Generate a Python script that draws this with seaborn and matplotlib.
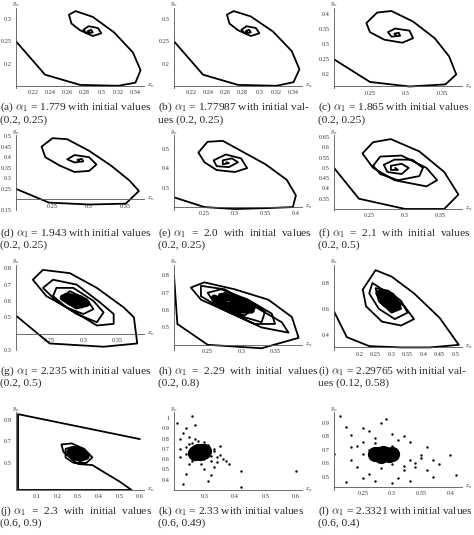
import numpy as np
import pandas as pd
import matplotlib
matplotlib.use("Agg")
from matplotlib import pyplot as plt
import seaborn as sns

sns.set_style("white")
plt.rcParams['font.family'] = ['Liberation Serif', 'DejaVu Serif']
plt.rcParams['mathtext.fontset'] = 'cm'

# ---- trajectories (x_n, y_n) ----
a_x = [0.2, 0.234, 0.275, 0.32, 0.34, 0.346, 0.337, 0.315, 0.29, 0.27, 0.262, 0.265, 0.275, 0.29, 0.3, 0.296, 0.285, 0.279, 0.283, 0.29, 0.288, 0.284, 0.286]
a_y = [0.25, 0.175, 0.152, 0.15, 0.157, 0.185, 0.225, 0.27, 0.305, 0.318, 0.31, 0.29, 0.275, 0.262, 0.268, 0.28, 0.284, 0.276, 0.268, 0.27, 0.276, 0.273, 0.271]
b_x = [0.2, 0.234, 0.275, 0.32, 0.34, 0.347, 0.338, 0.316, 0.29, 0.27, 0.262, 0.265, 0.275, 0.29, 0.3, 0.296, 0.285, 0.279, 0.283, 0.29, 0.288, 0.284, 0.286]
b_y = [0.25, 0.175, 0.152, 0.15, 0.158, 0.187, 0.228, 0.272, 0.306, 0.318, 0.31, 0.29, 0.275, 0.262, 0.268, 0.28, 0.284, 0.276, 0.268, 0.27, 0.276, 0.273, 0.271]
c_x = [0.2, 0.25, 0.305, 0.355, 0.37, 0.36, 0.34, 0.31, 0.28, 0.26, 0.245, 0.25, 0.27, 0.295, 0.31, 0.305, 0.285, 0.275, 0.28, 0.292, 0.29, 0.284, 0.286]
c_y = [0.25, 0.175, 0.16, 0.167, 0.2, 0.26, 0.32, 0.375, 0.41, 0.405, 0.37, 0.34, 0.315, 0.305, 0.32, 0.345, 0.352, 0.34, 0.325, 0.328, 0.338, 0.335, 0.331]
d_x = [0.2, 0.245, 0.3, 0.35, 0.368, 0.355, 0.33, 0.3, 0.27, 0.25, 0.235, 0.24, 0.26, 0.28, 0.3, 0.31, 0.3, 0.28, 0.27, 0.28, 0.292, 0.29, 0.284, 0.286]
d_y = [0.25, 0.185, 0.176, 0.18, 0.24, 0.29, 0.36, 0.43, 0.485, 0.49, 0.45, 0.4, 0.36, 0.33, 0.335, 0.365, 0.4, 0.41, 0.39, 0.375, 0.38, 0.392, 0.388, 0.385]
e_x = [0.2, 0.25, 0.3, 0.355, 0.395, 0.4, 0.385, 0.35, 0.315, 0.28, 0.255, 0.24, 0.25, 0.27, 0.3, 0.32, 0.31, 0.285, 0.265, 0.27, 0.29, 0.305, 0.295, 0.28, 0.28, 0.29, 0.286]
e_y = [0.25, 0.2, 0.19, 0.195, 0.2, 0.26, 0.34, 0.42, 0.48, 0.54, 0.535, 0.48, 0.43, 0.39, 0.38, 0.4, 0.45, 0.47, 0.44, 0.41, 0.405, 0.43, 0.45, 0.44, 0.42, 0.425, 0.43]
f_x = [0.2, 0.235, 0.3, 0.355, 0.375, 0.355, 0.32, 0.28, 0.255, 0.24, 0.255, 0.285, 0.33, 0.345, 0.33, 0.295, 0.265, 0.255, 0.265, 0.29, 0.32, 0.325, 0.31, 0.285, 0.27, 0.275, 0.295, 0.305, 0.295, 0.28, 0.28, 0.29, 0.286]
f_y = [0.5, 0.35, 0.3, 0.3, 0.37, 0.48, 0.58, 0.64, 0.625, 0.57, 0.5, 0.44, 0.41, 0.44, 0.5, 0.56, 0.555, 0.51, 0.47, 0.44, 0.46, 0.5, 0.54, 0.54, 0.515, 0.48, 0.47, 0.5, 0.52, 0.51, 0.49, 0.49, 0.5]
g_x = [0.2, 0.25, 0.33, 0.38, 0.375, 0.36, 0.32, 0.28, 0.24, 0.225, 0.245, 0.28, 0.32, 0.345, 0.345, 0.325, 0.29, 0.255, 0.24, 0.26, 0.29, 0.32, 0.33, 0.315, 0.285, 0.26, 0.255, 0.275, 0.3, 0.315, 0.305, 0.28, 0.268, 0.278, 0.298, 0.302, 0.288, 0.278, 0.285, 0.293, 0.286]
g_y = [0.51, 0.34, 0.32, 0.34, 0.5, 0.56, 0.68, 0.77, 0.79, 0.73, 0.63, 0.55, 0.45, 0.46, 0.52, 0.59, 0.7, 0.73, 0.68, 0.6, 0.52, 0.47, 0.53, 0.6, 0.68, 0.68, 0.63, 0.56, 0.52, 0.55, 0.61, 0.66, 0.62, 0.58, 0.56, 0.6, 0.64, 0.61, 0.58, 0.6, 0.6]
h_x = [0.2, 0.205, 0.25, 0.33, 0.385, 0.375, 0.34, 0.29, 0.245, 0.225, 0.24, 0.28, 0.33, 0.37, 0.36, 0.32, 0.275, 0.24, 0.24, 0.275, 0.32, 0.35, 0.345, 0.31, 0.27, 0.25, 0.26, 0.295, 0.33, 0.335, 0.31, 0.275, 0.26, 0.275, 0.305, 0.32, 0.305, 0.28, 0.272, 0.29, 0.305, 0.295, 0.282, 0.285]
h_y = [0.8, 0.52, 0.4, 0.38, 0.44, 0.56, 0.66, 0.72, 0.76, 0.73, 0.66, 0.59, 0.5, 0.47, 0.53, 0.62, 0.72, 0.74, 0.68, 0.6, 0.52, 0.52, 0.58, 0.66, 0.72, 0.7, 0.64, 0.57, 0.53, 0.59, 0.65, 0.7, 0.66, 0.6, 0.57, 0.61, 0.66, 0.67, 0.63, 0.6, 0.62, 0.65, 0.64, 0.63]
i_x = [0.12, 0.16, 0.23, 0.33, 0.42, 0.51, 0.45, 0.37, 0.3, 0.25, 0.21, 0.22, 0.27, 0.33, 0.37, 0.34, 0.29, 0.24, 0.23, 0.26, 0.31, 0.35, 0.33, 0.29, 0.25, 0.26, 0.3, 0.33, 0.31, 0.27, 0.265, 0.29, 0.31, 0.3, 0.28, 0.285, 0.295, 0.29]
i_y = [0.58, 0.38, 0.31, 0.3, 0.3, 0.32, 0.53, 0.72, 0.85, 0.9, 0.75, 0.62, 0.5, 0.47, 0.52, 0.62, 0.72, 0.8, 0.72, 0.6, 0.52, 0.57, 0.66, 0.74, 0.76, 0.66, 0.57, 0.6, 0.68, 0.73, 0.65, 0.6, 0.62, 0.68, 0.7, 0.64, 0.63, 0.65]
j_x = [0.6, 0.01, 0.01, 0.56, 0.5, 0.43, 0.37, 0.3, 0.23, 0.22, 0.27, 0.33, 0.37, 0.34, 0.28, 0.24, 0.24, 0.28, 0.33, 0.35, 0.31, 0.27, 0.26, 0.29, 0.33, 0.32, 0.28, 0.275, 0.3, 0.31, 0.295, 0.3]
j_y = [0.72, 0.95, 0.25, 0.25, 0.33, 0.41, 0.48, 0.49, 0.6, 0.67, 0.68, 0.63, 0.55, 0.5, 0.5, 0.55, 0.63, 0.65, 0.62, 0.57, 0.52, 0.54, 0.6, 0.62, 0.59, 0.55, 0.55, 0.58, 0.6, 0.57, 0.56, 0.575]

# dense cores of the spirals (g-j)
g_core_x = [0.27, 0.29, 0.305, 0.295, 0.275, 0.28, 0.295, 0.287]
g_core_y = [0.62, 0.57, 0.585, 0.615, 0.63, 0.6, 0.595, 0.605]
h_core_x = [0.26, 0.29, 0.315, 0.305, 0.27, 0.275, 0.3, 0.287]
h_core_y = [0.67, 0.6, 0.6, 0.65, 0.68, 0.63, 0.62, 0.635]
i_core_x = [0.26, 0.3, 0.32, 0.3, 0.27, 0.28, 0.305, 0.29]
i_core_y = [0.72, 0.6, 0.62, 0.7, 0.72, 0.64, 0.64, 0.66]
j_core_x = [0.26, 0.31, 0.34, 0.32, 0.27, 0.28, 0.32, 0.3]
j_core_y = [0.6, 0.54, 0.56, 0.6, 0.62, 0.56, 0.57, 0.58]

# ---- scatter panels ----
k_x = [0.21, 0.22, 0.23, 0.24, 0.25, 0.26, 0.27, 0.29, 0.3, 0.31, 0.32, 0.33, 0.35, 0.36, 0.38, 0.42, 0.6, 0.23, 0.24, 0.25, 0.26, 0.27, 0.3, 0.31, 0.33, 0.34, 0.22, 0.24, 0.26, 0.27, 0.28, 0.3, 0.32, 0.34, 0.25, 0.26, 0.29, 0.31, 0.33, 0.35, 0.37, 0.42, 0.22, 0.25, 0.31, 0.24, 0.26, 0.3, 0.32, 0.28]
k_y = [0.95, 0.8, 0.86, 0.9, 0.82, 1.02, 0.93, 0.55, 0.5, 0.39, 0.45, 0.52, 0.73, 0.6, 0.55, 0.33, 0.49, 0.36, 0.46, 0.55, 0.6, 0.72, 0.77, 0.74, 0.68, 0.62, 0.62, 0.72, 0.76, 0.8, 0.78, 0.6, 0.58, 0.57, 0.65, 0.58, 0.62, 0.66, 0.7, 0.64, 0.58, 0.49, 0.7, 0.75, 0.72, 0.65, 0.69, 0.64, 0.63, 0.68]
k_core_x = [0.275, 0.285, 0.295, 0.28, 0.29, 0.285, 0.27, 0.3]
k_core_y = [0.67, 0.66, 0.67, 0.68, 0.68, 0.67, 0.66, 0.68]
l_x = [0.2, 0.21, 0.22, 0.23, 0.24, 0.25, 0.26, 0.28, 0.29, 0.3, 0.31, 0.33, 0.34, 0.36, 0.37, 0.38, 0.4, 0.41, 0.22, 0.23, 0.25, 0.26, 0.27, 0.3, 0.32, 0.33, 0.35, 0.24, 0.25, 0.27, 0.32, 0.34, 0.36, 0.26, 0.3, 0.33, 0.25, 0.27, 0.31, 0.35, 0.23, 0.28, 0.32, 0.37, 0.3]
l_y = [0.67, 0.95, 0.87, 0.81, 0.73, 0.86, 0.84, 0.9, 0.93, 0.45, 0.49, 0.47, 0.57, 0.72, 0.5, 0.59, 0.66, 0.51, 0.46, 0.62, 0.49, 0.52, 0.47, 0.82, 0.8, 0.76, 0.64, 0.57, 0.76, 0.79, 0.55, 0.6, 0.55, 0.7, 0.59, 0.62, 0.67, 0.75, 0.77, 0.66, 0.72, 0.56, 0.58, 0.62, 0.73]
l_core_x = [0.27, 0.28, 0.29, 0.3, 0.285, 0.275, 0.295, 0.28]
l_core_y = [0.665, 0.66, 0.665, 0.67, 0.675, 0.67, 0.66, 0.655]

captions = [
    r"(a) $\alpha_1$ = 1.779 with initial values" + "\n(0.2, 0.25)",
    r"(b) $\alpha_1$ = 1.77987 with initial val-" + "\nues (0.2, 0.25)",
    r"(c) $\alpha_1$ = 1.865 with initial values" + "\n(0.2, 0.25)",
    r"(d) $\alpha_1$ = 1.943 with initial values" + "\n(0.2, 0.25)",
    r"(e) $\alpha_1$  =  2.0  with  initial  values" + "\n(0.2, 0.25)",
    r"(f) $\alpha_1$  =  2.1  with  initial  values" + "\n(0.2, 0.5)",
    r"(g) $\alpha_1$ = 2.235 with initial values" + "\n(0.2, 0.5)",
    r"(h) $\alpha_1$  =  2.29  with  initial  values" + "\n(0.2, 0.8)",
    r"(i) $\alpha_1$ = 2.29765 with initial val-" + "\nues (0.12, 0.58)",
    r"(j) $\alpha_1$  =  2.3  with  initial  values" + "\n(0.6, 0.9)",
    r"(k) $\alpha_1$ = 2.33 with initial values" + "\n(0.6, 0.49)",
    r"(l) $\alpha_1$ = 2.3321 with initial values" + "\n(0.6, 0.4)",
]

# xlim, ylim, x-axis crossing, xticks, yticks
specs = [
    ((0.2, 0.35), (0.145, 0.325), 0.15, [0.22, 0.24, 0.26, 0.28, 0.30, 0.32, 0.34], [0.20, 0.25, 0.30]),
    ((0.2, 0.35), (0.145, 0.325), 0.15, [0.22, 0.24, 0.26, 0.28, 0.30, 0.32, 0.34], [0.20, 0.25, 0.30]),
    ((0.2, 0.378), (0.155, 0.42), 0.16, [0.25, 0.30, 0.35], [0.20, 0.25, 0.30, 0.35, 0.40]),
    ((0.2, 0.375), (0.15, 0.505), 0.2, [0.25, 0.30, 0.35], [0.15, 0.25, 0.30, 0.35, 0.40, 0.45, 0.50]),
    ((0.2, 0.41), (0.185, 0.57), 0.2, [0.25, 0.30, 0.35, 0.40], [0.3, 0.4, 0.5]),
    ((0.2, 0.38), (0.295, 0.66), 0.3, [0.25, 0.30, 0.35], [0.35, 0.40, 0.45, 0.50, 0.55, 0.60, 0.65]),
    ((0.2, 0.39), (0.3, 0.82), 0.4, [0.25, 0.30, 0.35], [0.3, 0.5, 0.6, 0.7, 0.8]),
    ((0.2, 0.39), (0.37, 0.86), 0.4, [0.25, 0.30, 0.35], [0.5, 0.6, 0.7, 0.8]),
    ((0.12, 0.52), (0.28, 0.94), 0.3, [0.20, 0.25, 0.30, 0.35, 0.40, 0.45, 0.50], [0.4, 0.6, 0.8]),
    ((0.0, 0.62), (0.25, 0.97), 0.25, [0.1, 0.2, 0.3, 0.4, 0.5, 0.6], [0.5, 0.7, 0.9]),
    ((0.2, 0.62), (0.3, 1.06), 0.3, [0.3, 0.4, 0.5, 0.6], [0.4, 0.5, 0.6, 0.7, 0.8, 0.9, 1.0]),
    ((0.2, 0.42), (0.4, 0.98), 0.42, [0.25, 0.30, 0.35, 0.40], [0.5, 0.6, 0.7, 0.8, 0.9]),
]
paths = [(a_x, a_y), (b_x, b_y), (c_x, c_y), (d_x, d_y), (e_x, e_y), (f_x, f_y),
         (g_x, g_y), (h_x, h_y), (i_x, i_y), (j_x, j_y), None, None]
cores = {6: (g_core_x, g_core_y), 7: (h_core_x, h_core_y), 8: (i_core_x, i_core_y), 9: (j_core_x, j_core_y)}

W, H = 474, 535
fig = plt.figure(figsize=(W / 100, H / 100), dpi=100)
cols = [16, 174, 334]
rows = [(8, 88, 101), (135, 210, 226), (265, 350, 364), (412, 490, 504)]
for n in range(12):
    r, c = divmod(n, 3)
    top, bot, cap = rows[r]
    x0 = cols[c]
    ax = fig.add_axes([x0 / W, 1 - bot / H, 128 / W, (bot - top) / H])
    xl, yl, yc, xt, yt = specs[n]
    if paths[n] is not None:
        px, py = paths[n]
        df = pd.DataFrame({"x": px, "y": py})
        sns.lineplot(data=df, x="x", y="y", sort=False, estimator=None, color="black", lw=1.3, ax=ax)
        if n in cores:
            cx, cy = cores[n]
            sns.lineplot(x=cx, y=cy, sort=False, estimator=None, color="black", lw=5, ax=ax)
    else:
        sx, sy, cx, cy = (k_x, k_y, k_core_x, k_core_y) if n == 10 else (l_x, l_y, l_core_x, l_core_y)
        sns.scatterplot(x=sx, y=sy, s=3, color="black", linewidth=0, ax=ax)
        sns.scatterplot(x=cx, y=cy, s=120, color="black", linewidth=0, ax=ax)
    ax.set_xlim(xl)
    ax.set_ylim(yl)
    ax.set_xticks(xt)
    ax.set_yticks(yt)
    ax.set_xticklabels([f"{v:g}" if v >= 0.1 else "" for v in xt])
    ax.set_yticklabels([f"{v:.2f}" if len(f"{v:g}") > 3 else f"{v:g}" for v in yt])
    ax.spines['top'].set_visible(False)
    ax.spines['right'].set_visible(False)
    ax.spines['bottom'].set_position(('data', yc))
    ax.spines['left'].set_position(('data', xl[0]))
    for s in ('bottom', 'left'):
        ax.spines[s].set_color('#555555')
        ax.spines[s].set_linewidth(0.6)
    ax.tick_params(labelsize=4.5, length=2, width=0.5, pad=1, colors='#333333')
    ax.set_xlabel("")
    ax.set_ylabel("")
    ax.text(1.02, (yc - yl[0]) / (yl[1] - yl[0]), r"$x_n$", transform=ax.transAxes, fontsize=4.5, va='center')
    ax.text(0.0, 1.02, r"$y_n$", transform=ax.transAxes, fontsize=4.5, ha='center')
    fig.text((x0 - 16) / W, 1 - cap / H, captions[n], fontsize=8.2, va='top', ha='left', linespacing=1.15)

fig.savefig("out.png", dpi=100)
